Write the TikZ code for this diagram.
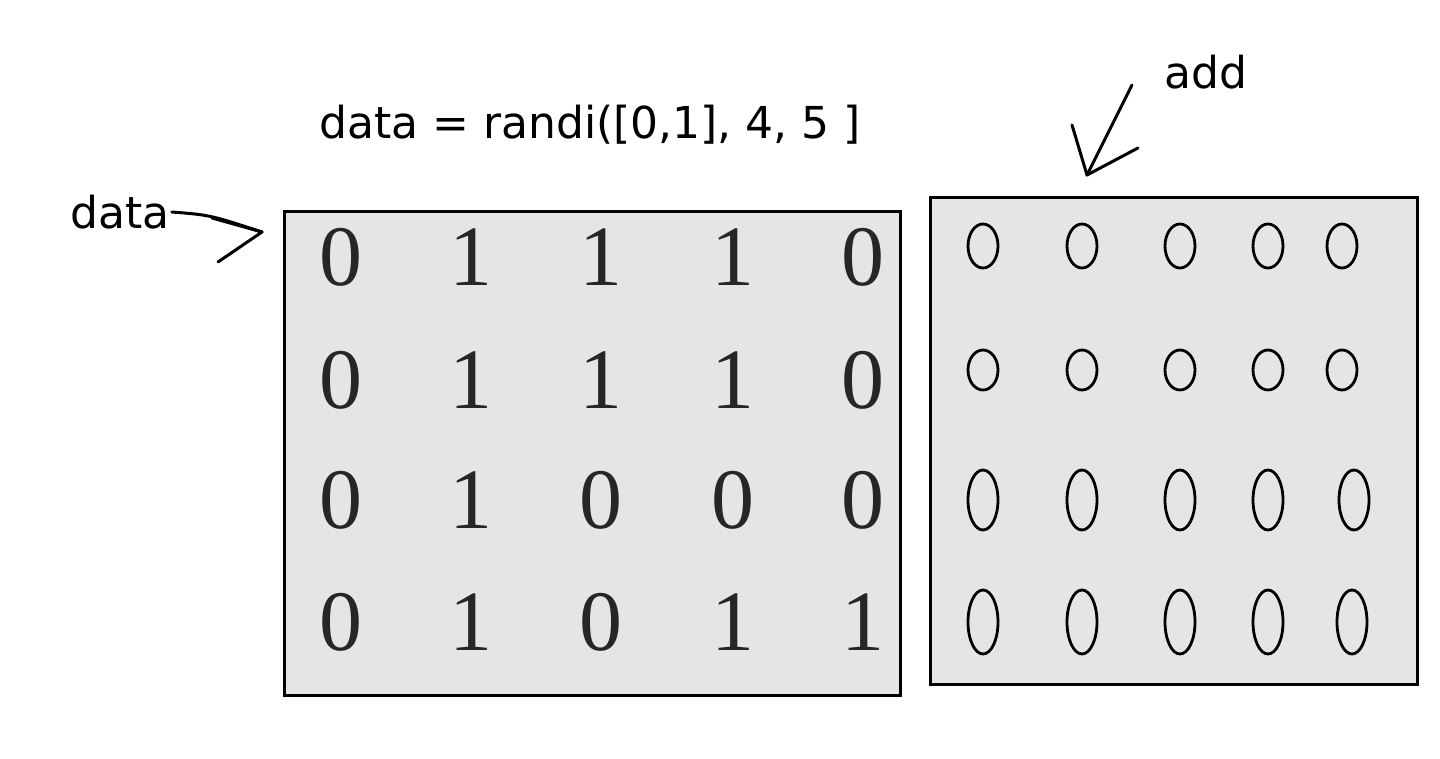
\documentclass[tikz,border=0pt]{standalone}
\usepackage{fontspec}
\setmainfont{Liberation Serif}
\newfontfamily\handfont{DejaVu Sans}[Scale=1]
\tikzset{
  box/.style={draw=black, line width=2.8pt, fill=gray!20},
  digit/.style={font=\fontsize{86}{86}\selectfont, inner sep=0pt, text=black!85},
  hand/.style={font=\handfont\fontsize{44}{44}\selectfont, inner sep=2pt},
  loop/.style={draw=black, line width=2.8pt},
  harrow/.style={draw=black, line width=3pt, line cap=round, line join=round}
}
\begin{document}
\begin{tikzpicture}[x=1pt,y=-1pt]
\useasboundingbox (0,0) rectangle (1440,759);
\fill[white] (0,0) rectangle (1440,759);
\node[box, minimum width=616pt, minimum height=484pt, anchor=north west] (left) at (283,210) {};
\node[box, minimum width=487pt, minimum height=487pt, anchor=north west] (right) at (929,196) {};
\foreach \r/\yy/\vals in {1/257/{0,1,1,1,0},2/380/{0,1,1,1,0},3/500/{0,1,0,0,0},4/622/{0,1,0,1,1}}{
  \foreach \v [count=\c] in \vals {
    \pgfmathsetmacro{\xx}{{341,471,601,733,863}[\c-1]}
    \node[digit] (d\r\c) at (\xx,\yy) {\v};
  }
}
\foreach \r/\yy/\ry/\xs in {1/246/22/0,2/370/20/0,3/500/30/12,4/622/32/10}{
  \foreach \xx [count=\c] in {983,1082,1180,1268,1342}{
    \pgfmathsetmacro{\xe}{\c==5 ? \xx+\xs : \xx}
    \draw[loop] (\xe,\yy) ellipse [x radius=15, y radius=\ry];
    \coordinate (z\r\c) at (\xe,\yy);
  }
}
\node[hand] (title) at (590,125) {data = randi([0,1], 4, 5 ]};
\node[hand] (datalbl) at (120,212) {data};
\coordinate (dataend) at (262,232);
\draw[harrow] (datalbl.east) .. controls (210,215) .. (dataend);
\draw[harrow] (218,262) -- (dataend) -- (212,218);
\node[hand] (addlbl) at (1206,72) {add};
\coordinate (addstart) at (1132,85);
\coordinate (addend) at (1087,175);
\draw[harrow] (addstart) -- (addend);
\draw[harrow] (1072,125) -- (addend) -- (1138,148);
\end{tikzpicture}
\end{document}
